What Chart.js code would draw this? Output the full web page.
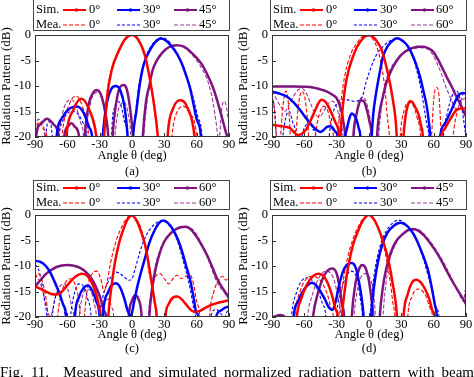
<!DOCTYPE html>
<html><head><meta charset="utf-8">
<script src="https://cdn.jsdelivr.net/npm/chart.js@4"></script>
<style>
body{margin:0;width:474px;height:377px;overflow:hidden;background:#fff;font-family:"Liberation Serif","Times New Roman",serif;position:relative}
.panel{position:absolute;width:237px}
.panel canvas{position:absolute;left:0;top:0}
.box{position:absolute;border:1px solid #444;box-sizing:border-box}
.lt{position:absolute;font-size:12.5px;line-height:14px;height:14px;white-space:nowrap;color:#000}
.sw{position:absolute;line-height:0;font-size:0;height:6px}
.sw svg{display:block}
.caption{position:absolute;left:0;top:365px;width:474px;font-size:15px;line-height:15px;white-space:nowrap;text-align:justify;text-align-last:justify;color:#000}
</style></head><body>
<div class="panel" id="pa" style="left:0;top:0;height:190px"><canvas id="ca" width="237" height="186"></canvas></div>
<div class="panel" id="pb" style="left:237px;top:0;height:190px"><canvas id="cb" width="237" height="186"></canvas></div>
<div class="panel" id="pc" style="left:0;top:180px;height:180px"><canvas id="cc" width="237" height="180"></canvas></div>
<div class="panel" id="pd" style="left:237px;top:180px;height:180px"><canvas id="cd" width="237" height="180"></canvas></div>
<div class="caption">Fig. 11.&nbsp; Measured and simulated normalized radiation pattern with beam</div>
<script>
// ---- tick labels / categories ----
const angleTicks = [-90, -60, -30, 0, 30, 60, 90];
const dbTicks = [0, -5, -10, -15, -20];
const panelLabels = ['(a)', '(b)', '(c)', '(d)'];
const beamsA = ['0°', '30°', '45°'];
const beamsB = ['0°', '30°', '60°'];
const beamsC = ['0°', '30°', '60°'];
const beamsD = ['0°', '30°', '45°'];
const rowNames = ['Sim.', 'Mea.'];

// ---- panel (a): [angle deg, dB] ----
const a_sim0 = [[-90,-30],[-64,-30],[-61,-20],[-54,-14.5],[-47,-12.5],[-40,-14.5],[-33,-20],[-29,-30],[-26,-20],[-23,-12],[-19,-7],[-12,-3],[-6,-0.7],[0,0],[6,-1],[12,-4],[16,-8],[20,-13],[24,-20],[27,-30],[31,-30],[33,-20],[38,-14.5],[45,-12.8],[52,-14.5],[58,-20],[61,-30],[90,-30]];
const a_mea0 = [[-90,-19],[-86,-17],[-82,-18.5],[-79,-20],[-77,-30],[-68,-30],[-65,-20],[-58,-13.5],[-52,-12],[-46,-14],[-40,-20],[-37,-30],[-30,-30],[-27,-20],[-23,-11],[-18,-6],[-12,-2.8],[-5,-0.5],[0,0],[5,-0.8],[12,-4],[17,-9],[21,-15],[24,-20],[26,-30],[34,-30],[37,-20],[42,-15],[48,-14],[54,-15.5],[60,-20],[62,-30],[90,-30]];
const a_sim30 = [[-90,-30],[-73,-30],[-70,-20],[-64,-16],[-57,-14.3],[-51,-14],[-45,-15.2],[-40,-18],[-37,-20],[-34,-30],[-29,-30],[-27,-20],[-23,-13],[-19,-10.5],[-15,-10],[-11,-10.8],[-7,-14],[-4,-20],[-1,-30],[1,-20],[4,-15],[7,-10],[10,-6.5],[13,-4.5],[17,-2.8],[22,-1.3],[27,-0.7],[32,-1.2],[37,-2.3],[42,-3.8],[46,-5.5],[50,-7.8],[54,-10.5],[57,-13.5],[60,-16.5],[64,-20],[66,-30],[90,-30]];
const a_mea30 = [[-90,-30],[-82,-30],[-80,-20],[-77,-17],[-74,-20],[-72,-30],[-68,-20],[-62,-16],[-55,-15],[-50,-15.5],[-46,-17],[-42,-20],[-40,-30],[-31,-30],[-28,-20],[-25,-17],[-22,-20],[-20,-30],[-19,-20],[-16,-14],[-13,-13],[-10,-14],[-7,-17],[-4,-20],[-2,-30],[1,-20],[4,-14],[7,-9],[11,-5.5],[15,-3.2],[20,-1.5],[27,-0.5],[33,-1],[38,-2.3],[43,-4],[48,-6.5],[53,-9.5],[57,-12.5],[61,-16],[65,-20],[67,-30],[90,-30]];
const a_sim45 = [[-90,-30],[-89,-20],[-85,-17.5],[-79,-16.4],[-73,-17.5],[-68,-20],[-65,-30],[-63,-20],[-59,-17.8],[-56,-17.3],[-53,-18],[-49,-20],[-47,-30],[-44,-20],[-40,-13.5],[-36,-11.3],[-33,-10.8],[-29,-11.6],[-25,-15],[-22,-20],[-20,-30],[-18,-20],[-14,-12.5],[-11,-10.2],[-8,-9.8],[-5,-10.5],[-2,-14],[1,-20],[4,-30],[8,-30],[10,-20],[13,-13],[16,-10],[19,-7],[23,-5],[28,-3.5],[34,-2.4],[42,-2],[48,-2.3],[54,-3.2],[60,-4.5],[65,-5.8],[70,-7.8],[75,-10.2],[79,-12.8],[83,-15.8],[87,-19],[89,-20.5],[90,-22]];
const a_mea45 = [[-90,-18],[-87,-16.5],[-84,-17],[-81,-20],[-79,-30],[-72,-30],[-68,-20],[-64,-15],[-60,-13],[-56,-12.7],[-52,-14],[-48,-17],[-45,-20],[-43,-30],[-42,-20],[-39,-14],[-35,-11.5],[-31,-11.2],[-27,-13],[-24,-17],[-22,-20],[-20,-30],[-16,-20],[-13,-15],[-10,-13.5],[-7,-13.2],[-4,-15],[-1,-20],[1,-30],[9,-30],[11,-20],[14,-13],[17,-9],[21,-6],[26,-4],[33,-2.6],[40,-2],[47,-2.2],[54,-3.5],[60,-5],[66,-7],[71,-9.5],[75,-13],[78,-17],[80,-20],[81,-20],[83,-15],[85,-13],[87,-13.5],[89,-16],[90,-17]];

// ---- panel (b) ----
const b_sim0 = [[-90,-17.6],[-84,-17.8],[-78,-18],[-73,-18.3],[-69,-19.2],[-66,-19.6],[-62,-19.3],[-58,-18.4],[-54.7,-17],[-50,-14.8],[-47,-13.4],[-44,-12.7],[-40,-13.2],[-36.5,-14.5],[-34.6,-15.4],[-31,-17.2],[-28.5,-18.6],[-27,-22],[-26,-18],[-24,-13.5],[-22,-10.1],[-19,-7],[-16,-4.9],[-11,-2.3],[-5,-0.5],[0,0],[5,-0.6],[9,-1.8],[11.7,-2.9],[15,-5.3],[17.5,-7.5],[19.5,-9.5],[22,-12.5],[24,-15.4],[25.7,-20],[27,-30],[30,-30],[32,-20],[34,-15.8],[36,-13.8],[38,-13],[40,-13.1],[42.5,-14],[45.7,-15.4],[48,-17.5],[50,-20],[52,-30],[64,-30],[67,-20],[70,-18.5],[74,-17],[78,-15.6],[81,-14.7],[85,-14.4],[90,-14.4]];
const b_mea0 = [[-90,-12.3],[-88,-14],[-86,-20],[-84,-30],[-82,-20],[-79,-12.5],[-77,-11],[-75,-13],[-73,-20],[-71,-30],[-68,-20],[-65,-13],[-62,-11],[-59,-13],[-56,-20],[-54,-30],[-50,-20],[-46,-15.5],[-42,-14],[-38,-15],[-35,-18],[-33,-20],[-31,-30],[-29,-20],[-26,-13],[-22,-7.5],[-17,-3.8],[-11,-1.5],[-5,-0.2],[0,-0.2],[5,-1.3],[9,-3.5],[12,-6.5],[15,-11],[17,-16],[19,-20],[21,-30],[27,-30],[29,-20],[33,-14.5],[37,-13.2],[41,-13.8],[45,-16.5],[48,-20],[50,-30],[56,-30],[58,-20],[61,-11],[63,-10.3],[65,-12],[67,-20],[69,-30],[75,-30],[78,-20],[82,-15],[85,-13.5],[88,-12.5],[90,-12.5]];
const b_sim30 = [[-90,-11.1],[-83,-11.5],[-76,-12.1],[-70,-13.2],[-64,-14.7],[-58,-16.4],[-51.7,-18],[-48,-18.7],[-45,-19],[-42,-18.6],[-39,-18],[-36.5,-17.9],[-34.6,-18],[-31,-19],[-29,-20],[-27.5,-30],[-24,-30],[-22,-20],[-20.7,-18.6],[-18,-16.2],[-16,-15.4],[-13.5,-15.8],[-11.5,-16.7],[-9.5,-18.3],[-8,-20],[-6,-30],[1,-30],[2.5,-20],[4,-15.4],[6.5,-11.5],[8.7,-8.8],[11,-6.2],[13,-4.2],[17,-2.3],[22.6,-1],[26,-0.65],[32,-1.3],[36,-2.2],[39.6,-3.6],[43.5,-5.6],[47.4,-8.2],[50.5,-11],[53.6,-14],[55.5,-17],[56.7,-20],[58,-30],[64,-30],[66,-20],[70,-17.5],[75,-15.4],[79,-13.5],[83,-11.8],[86,-11.4],[90,-11.4]];
const b_mea30 = [[-90,-12],[-88,-14],[-86,-20],[-84,-30],[-80,-20],[-77,-16],[-74,-15],[-71,-17],[-68,-20],[-66,-30],[-62,-20],[-58,-17.5],[-55,-17],[-52,-18.5],[-49,-20],[-47,-30],[-40,-30],[-37,-20],[-33,-15],[-28,-13],[-24,-12.6],[-18,-12.8],[-13,-13],[-9,-12.8],[-6,-12],[-3,-9.5],[0,-7.5],[4,-5.2],[8,-3.5],[13,-2.3],[18,-1.3],[22.6,-0.85],[27,-0.6],[32,-1.1],[37,-2.5],[41,-4.5],[45,-7.5],[49,-11.5],[52,-15.5],[54,-18],[55.5,-20],[57,-30],[66,-30],[69,-20],[73,-15],[77,-12],[80,-10.8],[83,-11.5],[86,-14],[88,-17],[90,-20]];
const b_sim60 = [[-90,-10.1],[-80,-10.1],[-70,-10.1],[-60,-10.15],[-54.7,-10.2],[-48,-10.5],[-43,-10.8],[-39,-11.1],[-34,-11.7],[-30,-12.4],[-27.5,-13.6],[-25,-15.4],[-23.5,-17.5],[-22,-20],[-20.5,-30],[-16,-30],[-14.5,-20],[-12,-16],[-9.5,-13.6],[-7.5,-12.8],[-5,-12.9],[-2,-14.7],[0.5,-17],[2.5,-20],[4,-30],[6,-30],[7.5,-20],[10,-15],[13,-12],[16,-9.5],[19.5,-7.5],[24,-5.6],[28.7,-4.2],[34,-3.2],[39.6,-2.6],[45,-2.3],[50.4,-2.3],[55,-2.6],[59.7,-3.3],[63.5,-4.6],[67.4,-6.2],[72,-8.2],[76.7,-10.1],[80.5,-11.8],[84.4,-13.4],[87.5,-14.8],[90,-16]];
const b_mea60 = [[-90,-11],[-86,-12.5],[-82,-14],[-78,-15],[-74,-13.5],[-70,-12],[-66,-10.8],[-62,-10.5],[-58,-11.5],[-54,-13.5],[-50,-15.5],[-46,-16],[-42,-15],[-38,-13.5],[-34,-13],[-30,-14],[-27,-17],[-24,-20],[-22,-30],[-16,-30],[-14,-20],[-11,-15],[-8,-12.5],[-5,-12.2],[-2,-13.5],[1,-16.5],[3,-20],[5,-30],[7,-30],[9,-20],[12,-13.5],[15,-9.5],[19,-7],[25,-5],[32,-3.5],[40,-2.8],[47,-2.5],[54,-2.7],[59,-3.8],[63,-5.5],[67,-7.5],[71,-10],[76,-12.5],[81,-14.5],[85,-13],[88,-11],[90,-10.5]];

// ---- panel (c) ----
const c_sim0 = [[-90,-14],[-85,-14.5],[-80,-15],[-75,-15.5],[-70,-15.6],[-66,-15.2],[-62,-14.3],[-57,-13],[-52,-12],[-47,-11.5],[-42,-11.8],[-38,-13],[-34,-15],[-31,-17.5],[-29,-20],[-27,-30],[-24,-30],[-22,-20],[-19,-14],[-16,-9.5],[-12,-5.5],[-8,-2.8],[-4,-0.8],[0,-0.1],[4,-1],[8,-3],[12,-5.8],[15,-9],[18,-13],[21,-17],[23,-20],[25,-30],[29,-30],[31,-20],[34,-17.5],[38,-16.2],[42,-16],[46,-16.5],[50,-17.5],[54,-18.5],[58,-19],[63,-18.8],[68,-18.2],[74,-17.6],[80,-17.2],[86,-16.9],[90,-16.7]];
const c_mea0 = [[-90,-12.5],[-87,-11.5],[-84,-12.5],[-81,-15],[-78,-20],[-76,-30],[-72,-30],[-69,-20],[-65,-15],[-61,-13],[-57,-12.5],[-53,-13.5],[-50,-16],[-48,-20],[-46,-30],[-44,-20],[-41,-14],[-37,-11.5],[-33,-11],[-29,-12.5],[-26,-15],[-23,-13],[-20,-9.5],[-16,-6],[-11,-3],[-6,-1],[-1,0],[4,-0.8],[9,-3],[13,-7],[16,-11.5],[19,-13.2],[22,-12],[26,-11.5],[30,-12.5],[34,-13.5],[38,-12.5],[42,-11.8],[46,-12.5],[50,-12],[54,-11.8],[57,-13.5],[60,-17],[63,-20],[65,-30],[70,-30],[72,-20],[76,-15],[80,-13],[84,-12],[87,-12.8],[90,-12]];
const c_sim30 = [[-90,-9],[-85,-9.2],[-80,-10],[-76,-11.2],[-72,-13],[-68,-15],[-64,-17.5],[-61,-20],[-59,-30],[-55,-30],[-53,-20],[-49,-16],[-45,-14.3],[-41,-13.8],[-37,-14.8],[-33,-17],[-30,-20],[-28,-30],[-27,-20],[-23,-15.5],[-19,-13.8],[-15,-13.4],[-11,-14.2],[-7,-16.5],[-4,-18.8],[-1,-19.8],[2,-17],[5,-14],[8,-11.5],[12,-8.5],[16,-5.5],[21,-3],[25,-1.6],[29,-1.1],[33,-1.5],[38,-2.8],[43,-5],[47,-7.5],[50,-9.8],[54,-12.8],[57,-16],[60,-19.3],[62,-20],[63,-30],[75,-30],[78,-20],[82,-18.8],[86,-18.2],[90,-18]];
const c_mea30 = [[-90,-9.8],[-87,-10.5],[-84,-13],[-81,-17],[-79,-20],[-77,-30],[-74,-20],[-71,-16],[-68,-15],[-65,-17],[-62,-20],[-60,-30],[-57,-20],[-53,-15],[-49,-13.5],[-45,-14],[-41,-16.5],[-38,-20],[-36,-30],[-32,-30],[-30,-20],[-27,-16],[-23,-13.5],[-19,-12],[-15,-11.2],[-11,-11.5],[-7,-12.2],[-3,-12.8],[0,-12.5],[3,-10.5],[7,-7.5],[11,-5],[16,-3],[21,-1.8],[27,-1.1],[32,-1.5],[37,-2.8],[42,-5],[46,-7.8],[50,-11],[54,-14.5],[57,-18],[59,-20],[61,-30],[70,-30],[73,-20],[78,-18.5],[83,-19.5],[86,-20],[88,-19],[90,-18.5]];
const c_sim60 = [[-90,-14],[-85,-12.8],[-80,-11.6],[-75,-10.8],[-70,-10.2],[-65,-9.9],[-60,-9.8],[-55,-9.9],[-50,-10.2],[-45,-10.8],[-40,-11.8],[-36,-13],[-32,-14.8],[-29,-16.5],[-26,-18.8],[-24,-20],[-22,-30],[-5,-30],[-3,-20],[0,-16.8],[3,-15.8],[6,-16.5],[9,-20],[11,-30],[14,-30],[16,-20],[19,-14],[22,-10.5],[26,-7.3],[30,-5.2],[35,-3.8],[40,-2.9],[45,-2.4],[50,-2.3],[55,-2.9],[59,-4],[63,-5.3],[67,-6.8],[71,-8.5],[75,-10.5],[79,-12.5],[83,-14],[87,-15.3],[90,-16.2]];
const c_mea60 = [[-90,-11.5],[-87,-12.5],[-84,-14],[-81,-16.5],[-78,-19],[-76,-20],[-74,-19],[-71,-16],[-67,-14],[-63,-13.5],[-59,-15],[-56,-18],[-54,-20],[-52,-30],[-49,-20],[-46,-16],[-42,-14.5],[-38,-15],[-35,-17.5],[-33,-20],[-31,-30],[-28,-20],[-25,-17],[-22,-16.5],[-19,-18],[-17,-20],[-15,-30],[12,-30],[15,-20],[18,-14.5],[21,-10.5],[25,-7.5],[30,-5],[36,-3.4],[43,-2.6],[50,-2.3],[56,-2.8],[61,-4.2],[65,-5.8],[69,-7.8],[73,-10],[77,-12.3],[81,-14],[85,-15],[88,-16],[90,-16.5]];

// ---- panel (d) ----
const d_sim0 = [[-90,-30],[-70,-30],[-67,-20],[-63,-16.5],[-58,-13.8],[-52,-12],[-47,-11.5],[-42,-12],[-38,-13.5],[-34,-16],[-31,-18.5],[-29,-20],[-27,-30],[-25,-20],[-22,-14],[-19,-9.8],[-15,-6],[-11,-3.6],[-6,-1.2],[0,0],[5,-1],[10,-3.3],[14,-5.8],[17,-8],[20,-11],[22,-13.5],[24,-16],[26,-20],[28,-30],[30,-30],[32,-20],[36,-15.5],[40,-13.2],[44,-12.7],[48,-13.2],[52,-14.5],[56,-16.5],[59,-18.8],[61,-20],[63,-30],[90,-30]];
const d_mea0 = [[-90,-30],[-72,-30],[-69,-20],[-64,-15],[-58,-12.5],[-53,-12],[-48,-12.3],[-43,-13.5],[-38,-16],[-35,-18.5],[-33,-20],[-31,-30],[-28,-20],[-24,-13],[-20,-8.5],[-15,-4.8],[-10,-2.3],[-5,-0.6],[0,-0.1],[5,-1],[10,-3.5],[14,-6.5],[17,-9.5],[20,-13.5],[22,-17],[24,-20],[26,-30],[34,-30],[36,-20],[40,-16],[45,-14.5],[49,-14.8],[53,-16],[57,-18.5],[59,-20],[61,-30],[90,-30]];
const d_sim30 = [[-90,-30],[-72,-30],[-70,-20],[-66,-17],[-62,-15.2],[-57,-13.8],[-53,-13.3],[-49,-13.8],[-45,-15],[-41,-16.5],[-37,-18.2],[-34,-18.6],[-31,-17],[-28,-14],[-24,-11],[-20,-9.7],[-16,-9.4],[-12,-10.5],[-9,-13.5],[-7,-16],[-5,-20],[-3,-30],[0,-30],[2,-20],[5,-13.5],[8,-9.5],[12,-6],[17,-3.5],[23,-2.1],[29,-1.5],[34,-1.9],[39,-3],[44,-4.8],[48,-6.8],[52,-9],[55,-11],[58,-14],[61,-17.5],[63,-20],[65,-30],[90,-30]];
const d_mea30 = [[-90,-30],[-75,-30],[-72,-20],[-67,-15],[-62,-12.8],[-57,-12.3],[-52,-13],[-47,-15],[-43,-17.5],[-40,-20],[-38,-30],[-32,-30],[-30,-20],[-26,-15],[-21,-12],[-17,-11],[-13,-11.5],[-10,-13.5],[-8,-16.5],[-6,-20],[-4,-30],[-1,-30],[1,-20],[4,-13],[8,-8],[12,-5],[17,-2.8],[22,-1.6],[27,-1],[32,-1.4],[37,-2.5],[42,-4.2],[47,-6.5],[51,-9],[55,-12],[59,-15],[62,-18],[65,-20],[67,-30],[90,-30]];
const d_sim45 = [[-90,-20.5],[-86,-19.8],[-82,-19.6],[-78,-20],[-75,-30],[-56,-30],[-52,-20],[-47,-15],[-42,-12],[-38,-10.8],[-34,-10.5],[-30,-11.5],[-27,-14.5],[-25,-17.5],[-23,-20],[-21,-30],[-18,-30],[-16,-20],[-13,-14],[-9,-10.5],[-6,-9.8],[-3,-10.5],[0,-13],[2,-16],[4,-20],[6,-30],[8,-30],[10,-20],[13,-14],[16,-10.5],[20,-7.5],[25,-5.2],[31,-3.8],[36,-3],[41,-2.8],[46,-3.1],[51,-4],[56,-5.3],[61,-6.8],[66,-8.5],[71,-10.5],[76,-12.5],[81,-14.3],[86,-16],[90,-17.5]];
const d_mea45 = [[-90,-20],[-85,-19.5],[-80,-20],[-78,-30],[-60,-30],[-57,-20],[-53,-16],[-48,-13],[-44,-11.5],[-40,-11],[-36,-11.3],[-32,-13],[-29,-16],[-26,-20],[-24,-30],[-17,-30],[-14,-20],[-11,-15],[-7,-12],[-3,-11.5],[1,-12.5],[4,-15],[6,-20],[8,-30],[11,-30],[13,-20],[16,-13],[19,-9],[23,-6.5],[29,-4.2],[35,-3],[41,-2.6],[47,-3],[53,-4.2],[59,-5.8],[65,-7.8],[71,-10],[77,-12.5],[82,-14.8],[86,-16.5],[88,-17],[89,-15],[90,-14.5]];

// ---- styles ----
const RED = '#ff0000', BLUE = '#0000ff', PURPLE = '#7f147f', PURPLE_M = '#9a3a9a';
const seriesStyle = [
  {color: RED, sim: true}, {color: BLUE, sim: true}, {color: PURPLE, sim: true},
  {color: RED, dash: [4, 2]}, {color: BLUE, dash: [3, 2]}, {color: PURPLE_M, dash: [4, 2]}
];

const FONT = 'Liberation Serif';

const framePlugin = {
  id: 'frame',
  afterDatasetsDraw(chart) {
    const {ctx, chartArea: ca, scales} = chart;
    ctx.save();
    ctx.strokeStyle = '#333';
    ctx.lineWidth = 1;
    ctx.strokeRect(ca.left + 0.5, ca.top + 0.5, ca.right - ca.left - 1, ca.bottom - ca.top - 1);
    ctx.beginPath();
    scales.x.ticks.forEach(t => {
      const px = Math.round(scales.x.getPixelForValue(t.value)) + 0.5;
      ctx.moveTo(px, ca.bottom); ctx.lineTo(px, ca.bottom - 4);
    });
    scales.y.ticks.forEach(t => {
      const py = Math.round(scales.y.getPixelForValue(t.value)) + 0.5;
      ctx.moveTo(ca.left, py); ctx.lineTo(ca.left + 4, py);
    });
    ctx.stroke();
    ctx.restore();
  }
};

function makeChart(canvasId, curves, cfg) {
  const datasets = curves.map((pts, i) => {
    const st = seriesStyle[i];
    return {
      data: pts.map(p => ({x: p[0], y: p[1]})),
      borderColor: st.color,
      borderWidth: st.sim ? 2.5 : 1.1,
      borderDash: st.dash || [],
      pointRadius: 0,
      fill: false,
      cubicInterpolationMode: 'monotone',
      order: st.sim ? 0 : 1
    };
  });
  return new Chart(document.getElementById(canvasId), {
    type: 'line',
    data: {datasets},
    options: {
      responsive: false, animation: false, devicePixelRatio: 1,
      layout: {padding: {left: 0, right: 8, top: 35, bottom: cfg.padBottom}},
      plugins: {legend: {display: false}, tooltip: {enabled: false}},
      scales: {
        x: {
          type: 'linear', min: -90, max: 90,
          afterBuildTicks(s) { s.ticks = angleTicks.map(v => ({value: v})); },
          ticks: {autoSkip: false, maxRotation: 0, padding: 1, color: '#000', font: {family: FONT, size: 12.5, lineHeight: 1.1}},
          grid: {display: false, drawTicks: false}, border: {display: false},
          title: {display: true, text: ['Angle θ (deg)', cfg.label], color: '#000', padding: 0,
                  font: {family: FONT, size: 12.5, lineHeight: cfg.titleLH / 12.5}},
          afterFit(s) { s.height = cfg.xh; }
        },
        y: {
          min: -20, max: 0,
          afterBuildTicks(s) { s.ticks = dbTicks.map(v => ({value: v})); },
          ticks: {padding: 4, color: '#000', font: {family: FONT, size: 12.5, lineHeight: 1.1}},
          grid: {display: false, drawTicks: false}, border: {display: false},
          title: {display: true, text: 'Radiation Pattern (dB)', color: '#000', padding: 0,
                  font: {family: FONT, size: 13, lineHeight: 14 / 13}},
          afterFit(s) { s.width = 35; }
        }
      }
    },
    plugins: [framePlugin]
  });
}

function svgLine(color, dash, sim) {
  const w = 23;
  let s = '<svg width="' + w + '" height="6" xmlns="http://www.w3.org/2000/svg">';
  s += '<line x1="0" y1="3" x2="' + w + '" y2="3" stroke="' + color + '" stroke-width="' + (sim ? 2 : 1.1) + '"' + (dash ? ' stroke-dasharray="' + dash.join(',') + '"' : '') + '/>';
  if (sim) s += '<circle cx="' + (w / 2 + 2) + '" cy="3" r="1.8" fill="' + color + '"/>';
  return s + '</svg>';
}

function buildLegend(panelId, beams, boxTop, boxBottom, rows) {
  const p = document.getElementById(panelId);
  const box = document.createElement('div');
  box.className = 'box';
  box.style.left = '33px'; box.style.top = boxTop + 'px';
  box.style.width = '197px'; box.style.height = (boxBottom - boxTop) + 'px';
  p.appendChild(box);
  const lineX = [63, 117, 174];
  const textX = [89, 143, 199];
  rows.forEach((cy, r) => {
    const t = document.createElement('div');
    t.className = 'lt'; t.textContent = rowNames[r];
    t.style.left = '36px'; t.style.top = (cy - 7) + 'px';
    p.appendChild(t);
    for (let k = 0; k < 3; k++) {
      const st = seriesStyle[r * 3 + k];
      const sw = document.createElement('div');
      sw.className = 'sw';
      sw.style.left = lineX[k] + 'px'; sw.style.top = (cy - 2) + 'px';
      sw.innerHTML = svgLine(st.color, st.dash, st.sim);
      p.appendChild(sw);
      const lb = document.createElement('div');
      lb.className = 'lt'; lb.textContent = beams[k];
      lb.style.left = textX[k] + 'px'; lb.style.top = (cy - 7) + 'px';
      p.appendChild(lb);
    }
  });
}

const topCfg = {padBottom: 7, xh: 42, titleLH: 15.3};
const botCfg = {padBottom: 5, xh: 38, titleLH: 13.3};

makeChart('ca', [a_sim0, a_sim30, a_sim45, a_mea0, a_mea30, a_mea45], Object.assign({label: panelLabels[0]}, topCfg));
makeChart('cb', [b_sim0, b_sim30, b_sim60, b_mea0, b_mea30, b_mea60], Object.assign({label: panelLabels[1]}, topCfg));
makeChart('cc', [c_sim0, c_sim30, c_sim60, c_mea0, c_mea30, c_mea60], Object.assign({label: panelLabels[2]}, botCfg));
makeChart('cd', [d_sim0, d_sim30, d_sim45, d_mea0, d_mea30, d_mea45], Object.assign({label: panelLabels[3]}, botCfg));

buildLegend('pa', beamsA, -2, 31, [9, 24]);
buildLegend('pb', beamsB, -2, 31, [9, 24]);
buildLegend('pc', beamsC, 0, 30, [7, 22]);
buildLegend('pd', beamsD, 0, 30, [7, 22]);
</script>
</body></html>
